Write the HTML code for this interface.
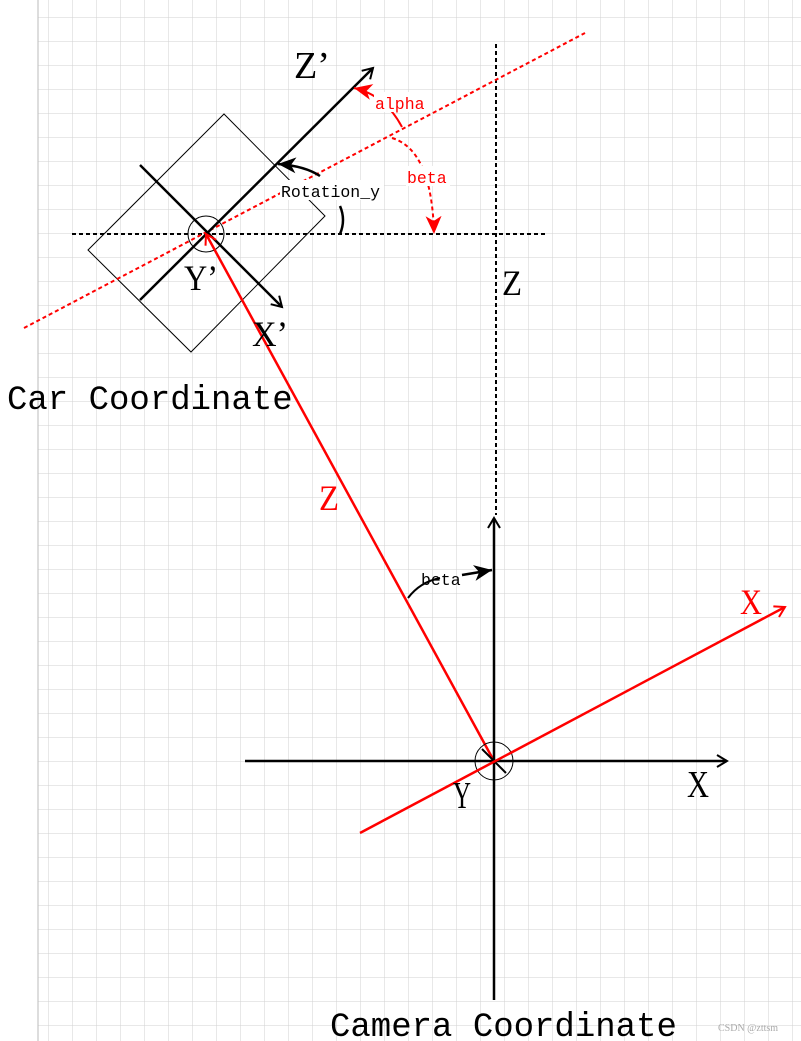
<!DOCTYPE html>
<html><head><meta charset="utf-8"><style>
html,body{margin:0;padding:0;background:#fff}
svg{display:block}
text{font-family:"Liberation Serif","Noto Serif CJK SC",serif}
.m{font-family:"Liberation Mono","DejaVu Sans Mono",monospace}
</style></head><body>
<svg width="801" height="1041" viewBox="0 0 801 1041" xmlns="http://www.w3.org/2000/svg">
<defs>
<pattern id="g" x="48" y="17" width="24" height="24" patternUnits="userSpaceOnUse">
<path d="M0 0V24M0 0H24" stroke="#d2d2d2" stroke-width="1" fill="none"/>
</pattern>
<marker id="ob" markerWidth="14" markerHeight="14" refX="12" refY="7" orient="auto" markerUnits="userSpaceOnUse"><path d="M2 1L12 7L2 13" fill="none" stroke="#000" stroke-width="2"/></marker>
<marker id="or" markerWidth="14" markerHeight="14" refX="12" refY="7" orient="auto" markerUnits="userSpaceOnUse"><path d="M2 1L12 7L2 13" fill="none" stroke="red" stroke-width="2"/></marker>
<marker id="fb" markerWidth="20" markerHeight="16" refX="18" refY="8" orient="auto" markerUnits="userSpaceOnUse"><path d="M0 0L18 8L0 16L5 8Z" fill="#000"/></marker>
<marker id="fr" markerWidth="20" markerHeight="16" refX="18" refY="8" orient="auto" markerUnits="userSpaceOnUse"><path d="M0 0L18 8L0 16L5 8Z" fill="red"/></marker>
</defs>
<rect x="38" y="0" width="763" height="1041" fill="url(#g)"/>
<line x1="38" y1="0" x2="38" y2="1041" stroke="#bbb"/>

<polygon points="224,114 325,216 191,352 88,250" fill="none" stroke="#000" stroke-width="1"/>
<line x1="72" y1="234" x2="548" y2="234" stroke="#000" stroke-width="2" stroke-dasharray="4,3"/>
<line x1="496" y1="44" x2="496" y2="515" stroke="#000" stroke-width="2" stroke-dasharray="4,3"/>
<line x1="24" y1="328" x2="585" y2="33" stroke="red" stroke-width="2" stroke-dasharray="4,3"/>
<line x1="140" y1="300" x2="373" y2="68" stroke="#000" stroke-width="2.5" marker-end="url(#ob)"/>
<line x1="140" y1="165" x2="282" y2="307" stroke="#000" stroke-width="2.5" marker-end="url(#ob)"/>
<circle cx="206" cy="234" r="18" fill="none" stroke="#000" stroke-width="1"/>
<line x1="494" y1="761" x2="206" y2="234" stroke="red" stroke-width="2.5" marker-end="url(#or)"/>
<line x1="245" y1="761" x2="727" y2="761" stroke="#000" stroke-width="2.5" marker-end="url(#ob)"/>
<line x1="494" y1="1000" x2="494" y2="518" stroke="#000" stroke-width="2.5" marker-end="url(#ob)"/>
<circle cx="494" cy="761" r="19" fill="none" stroke="#000" stroke-width="1"/>
<line x1="482" y1="749" x2="506" y2="773" stroke="#000" stroke-width="2"/>
<line x1="360" y1="833" x2="785" y2="607" stroke="red" stroke-width="2.5" marker-end="url(#or)"/>

<path d="M320 176 Q305 166 278 164" fill="none" stroke="#000" stroke-width="2.5" marker-end="url(#fb)"/>
<path d="M340 206 Q346 220 340 234" fill="none" stroke="#000" stroke-width="2.5"/>
<path d="M402 127 Q385 95 354 88" fill="none" stroke="red" stroke-width="2" marker-end="url(#fr)"/>
<path d="M392 138 Q432 150 434 234" fill="none" stroke="red" stroke-width="2" stroke-dasharray="4,3" marker-end="url(#fr)"/>
<path d="M408 598 Q420 582 440 578" fill="none" stroke="#000" stroke-width="2"/>
<path d="M462 575 L492 570" fill="none" stroke="#000" stroke-width="2.5" marker-end="url(#fb)"/>

<rect x="280" y="180" width="104" height="20" fill="#fff"/>
<text x="281" y="197" class="m" font-size="16.5" fill="#000">Rotation_y</text>
<rect x="374" y="92" width="54" height="20" fill="#fff"/>
<text x="375" y="109" class="m" font-size="16.5" fill="red">alpha</text>
<rect x="406" y="166" width="44" height="20" fill="#fff"/>
<text x="407" y="183" class="m" font-size="16.5" fill="red">beta</text>
<text x="421" y="585" class="m" font-size="16.5" fill="#000">beta</text>
<text x="294" y="78" font-size="38" textLength="36" lengthAdjust="spacingAndGlyphs">Z’</text>
<text x="184" y="290" font-size="36" textLength="34" lengthAdjust="spacingAndGlyphs">Y’</text>
<text x="252" y="346" font-size="36" textLength="36" lengthAdjust="spacingAndGlyphs">X’</text>
<text x="502" y="295" font-size="36" textLength="20" lengthAdjust="spacingAndGlyphs">Z</text>
<text x="319" y="510" font-size="36" fill="red" textLength="20" lengthAdjust="spacingAndGlyphs">Z</text>
<text x="740" y="614" font-size="36" fill="red" textLength="22" lengthAdjust="spacingAndGlyphs">X</text>
<text x="687" y="797" font-size="38" textLength="22" lengthAdjust="spacingAndGlyphs">X</text>
<text x="453" y="808" font-size="38" textLength="18" lengthAdjust="spacingAndGlyphs">Y</text>
<text x="7" y="409" font-size="34" class="m">Car Coordinate</text>
<text x="330" y="1036" font-size="34" class="m">Camera Coordinate</text>
<text x="718" y="1031" font-size="10" fill="#aaa" font-family="Liberation Sans,sans-serif">CSDN @zttsm</text>
</svg>
</body></html>
